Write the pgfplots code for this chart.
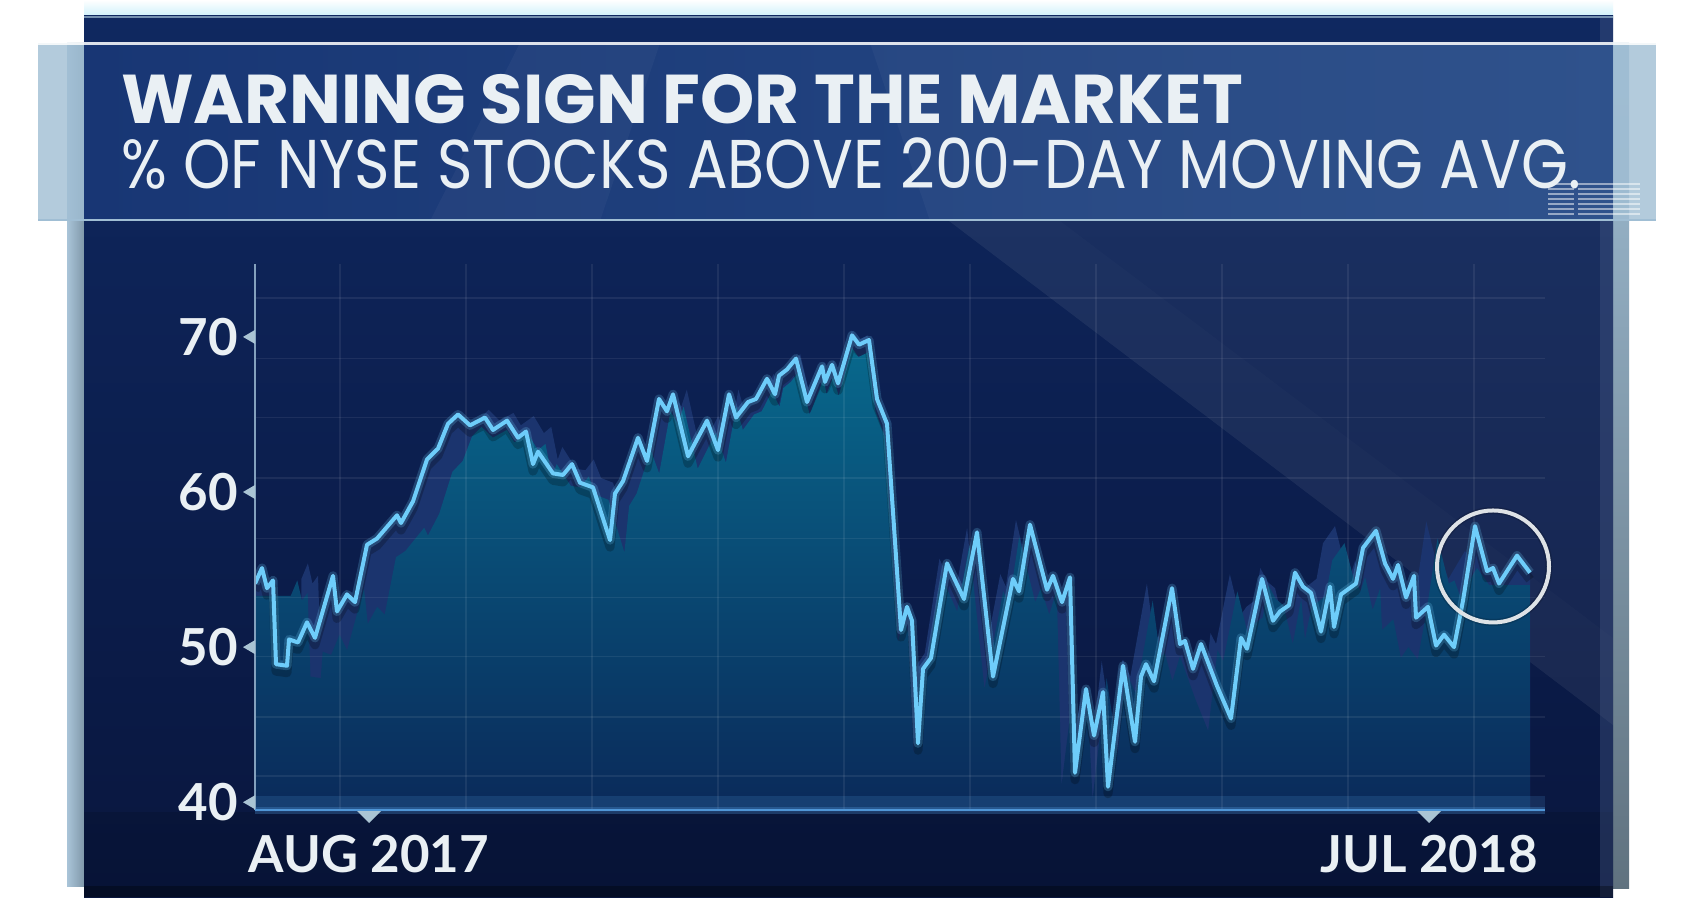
\documentclass[border=0pt]{standalone}
\usepackage{pgfplots}
\pgfplotsset{compat=1.18}
\usepackage{pgfplotstable}
\usepgfplotslibrary{fillbetween}
\usepackage{fontspec}
\newfontfamily\titlefont{Poppins}
\newfontfamily\tickfont{Lato}

\definecolor{bgtop}{RGB}{15,40,96}
\definecolor{bgmid}{RGB}{14,37,90}
\definecolor{bgbot}{RGB}{9,22,62}
\definecolor{navyband}{RGB}{27,52,110}
\definecolor{tealtop}{RGB}{8,104,140}
\definecolor{tealmid}{RGB}{9,72,112}
\definecolor{tealbot}{RGB}{10,42,90}
\definecolor{linecol}{RGB}{110,205,250}
\definecolor{labelcol}{RGB}{234,240,244}
\definecolor{tickcol}{RGB}{170,196,212}
\definecolor{circlecol}{RGB}{222,226,230}
\definecolor{bannerL}{RGB}{24,54,116}
\definecolor{bannerR}{RGB}{40,76,136}
\definecolor{glass}{RGB}{160,190,212}
\definecolor{glowcyan}{RGB}{196,238,250}
\definecolor{axisblue}{RGB}{80,150,215}

% % of NYSE stocks above 200-day moving average
% x: position along the time axis, v: percent
\pgfplotstableread{
x v
0 54.1
7 55.1
12 53.8
18 54.3
21 48.9
32 48.8
34 50.5
43 50.3
52 51.6
60 50.6
78 54.6
82 52.3
92 53.4
100 52.9
112 56.6
122 57.0
142 58.5
146 58.0
158 59.4
172 62.1
183 62.8
193 64.4
203 65.0
215 64.3
230 64.8
238 64.0
252 64.6
263 63.5
271 63.9
278 61.8
283 62.6
298 61.2
308 61.1
317 61.8
325 60.6
338 60.3
355 56.9
360 59.9
368 60.7
383 63.5
392 62.0
404 66.0
412 65.2
418 66.3
433 62.3
452 64.6
463 62.7
474 66.3
481 64.8
493 65.8
501 66.0
512 67.3
520 66.3
524 67.5
532 67.9
541 68.6
552 65.8
567 68.1
570 67.1
577 68.2
583 67.0
597 70.1
604 69.5
614 69.8
622 66.0
632 64.4
646 51.1
652 52.6
657 51.7
663 43.8
668 48.6
676 49.3
692 55.4
709 53.1
722 57.4
738 48.1
758 54.4
764 53.6
775 57.9
792 53.7
798 54.6
807 52.9
815 54.5
820 41.9
831 47.3
839 44.3
848 47.1
853 41.0
868 48.8
880 43.9
886 48.1
891 48.9
899 47.8
917 53.8
925 50.2
930 50.4
938 48.6
946 50.2
962 47.5
976 45.4
986 50.6
992 49.9
1007 54.4
1018 51.7
1025 52.3
1034 52.7
1040 54.8
1048 53.9
1056 53.5
1066 51.0
1075 53.9
1079 51.3
1086 53.4
1101 54.1
1108 56.4
1121 57.5
1130 55.4
1138 54.4
1143 55.3
1151 53.2
1159 54.6
1161 51.9
1173 52.6
1181 50.1
1189 50.8
1199 50.0
1208 53.0
1220 57.8
1232 54.9
1238 55.1
1244 54.1
1262 55.9
1275 54.8
}\nysedata

\begin{document}
\begin{tikzpicture}[x=1pt,y=1pt]
% canvas and frame
\fill[white] (0,0) rectangle (1691,906);
\shade[top color=white, bottom color=glowcyan] (84,886) rectangle (1613,906);
\shade[left color=glass!90!white, right color=glass!80!black] (67,20) rectangle (84,863);
\shade[top color=glass, bottom color=glass!60!black] (1613,18) rectangle (1629,863);
\shade[top color=bgtop, middle color=bgmid, bottom color=bgbot] (84,9) rectangle (1613,890);
\fill[white, opacity=0.05] (949,685) -- (1613,685) -- (1613,181) -- cycle;
\fill[white, opacity=0.015] (949,685) -- (1060,685) -- (1613,268) -- (1613,181) -- cycle;
\fill[black, opacity=0.12] (84,9) rectangle (1613,94);
\fill[navyband!80!white, opacity=0.35] (1600,9) rectangle (1613,890);
\fill[black, opacity=0.3] (84,9) rectangle (1613,20);
\draw[glass!70!bgtop, line width=2] (84,889) -- (1613,889);

% title banner
\shade[left color=bannerL, right color=bannerR] (84,685) rectangle (1613,863);
\fill[white, opacity=0.035] (430,685) -- (600,685) -- (660,863) -- (520,863) -- cycle;
\fill[white, opacity=0.035] (930,685) -- (1613,685) -- (1613,863) -- (870,863) -- cycle;
\fill[glass, opacity=0.8] (38,685) rectangle (84,863);
\fill[glass, opacity=0.8] (1613,685) rectangle (1656,863);
\draw[white, opacity=0.85, line width=3] (38,862) -- (1656,862);
\draw[glass, line width=2] (38,686) -- (1656,686);
\foreach \yy in {692,697,702,707,712,717,722}
  \draw[white, opacity=0.5, line width=2] (1548,\yy) -- (1574,\yy) (1578,\yy) -- (1640,\yy);

\node[anchor=base west, inner sep=0, text=labelcol,
  font=\titlefont\bfseries\fontsize{69}{69}\selectfont] at (121,782) {WARNING SIGN FOR THE MARKET};
\node[anchor=base west, inner sep=0, text=labelcol,
  font=\titlefont\fontsize{69}{69}\selectfont] at (121,717) {\scalebox{0.875}[1]{\% OF NYSE STOCKS ABOVE 200-DAY MOVING AVG.}};

\begin{axis}[
    name=main,
    at={(255pt,96pt)}, anchor=south west,
    scale only axis, width=1290pt, height=546pt,
    xmin=0, xmax=1290, ymin=39.5, ymax=74.7,
    axis line style={draw=none},
    major tick length=0pt,
    xtick={114,1174}, xticklabels={AUG 2017,JUL 2018},
    ytick={40,50,60,70}, yticklabels={40,50,60,70},
    ticklabel style={font=\tickfont\bfseries\fontsize{51}{51}\selectfont, text=labelcol, inner sep=0pt},
    yticklabel style={anchor=east, xshift=-17pt},
    xticklabel style={anchor=north, yshift=-25pt},
  ]
  % top face of the ribbon
  \addplot[draw=none, fill=navyband] table[x=x, y=v] {\nysedata}
    -- (axis cs:1275,39.5) -- (axis cs:0,39.5) -- cycle;
  \addplot[draw=none, fill=navyband] table[x expr=\thisrow{x}+0.078*(595-\thisrow{x}), y expr=\thisrow{v}+0.3] {\nysedata}
    -- (axis cs:1221.96,39.5) -- (axis cs:46.41,39.5) -- cycle;
  % front face
  \addplot[draw=none, top color=tealtop, middle color=tealmid, bottom color=tealbot]
    table[x expr=\thisrow{x}+0.06*(595-\thisrow{x}), y expr=\thisrow{v}-0.8] {\nysedata}
    -- (axis cs:1275,54.0) -- (axis cs:1275,39.5) -- (axis cs:0,39.5) -- (axis cs:0,53.3) -- cycle;
  \addplot[draw=none, name path=linemd] table[x=x, y expr=\thisrow{v}-0.8] {\nysedata};
  \addplot[draw=none, name path=tealedge] table[x expr=\thisrow{x}+0.06*(595-\thisrow{x}), y expr=\thisrow{v}-0.8] {\nysedata};
  \addplot[fill=navyband, draw=none] fill between[of=linemd and tealedge, on layer=main];
  % glow along the base
  \fill[axisblue, opacity=0.18] (axis cs:0,39.5) rectangle (axis cs:1290,40.4);
  % grid
  \pgfplotsinvokeforeach{85,211,337,463,589,715,841,967,1093,1219}{
    \draw[white, opacity=0.07, line width=1.5pt] (axis cs:#1,39.5) -- (axis cs:#1,74.7);
  }
  \pgfplotsinvokeforeach{41.7,45.5,49.4,53.2,57.0,60.9,64.8,68.6,72.5}{
    \draw[white, opacity=0.07, line width=1.5pt] (axis cs:0,#1) -- (axis cs:1290,#1);
  }
  % the series
  \addplot[black, opacity=0.22, line width=9pt, line join=round] table[x=x, y expr=\thisrow{v}-0.45] {\nysedata};
  \addplot[linecol, opacity=0.22, line width=9pt, line join=round] table[x=x, y=v] {\nysedata};
  \addplot[linecol, line width=4pt, line join=round] table[x=x, y=v] {\nysedata};
  \coordinate (cc) at (axis cs:1238,55.2);
  \coordinate (ty40) at (axis cs:0,40);
  \coordinate (ty50) at (axis cs:0,50);
  \coordinate (ty60) at (axis cs:0,60);
  \coordinate (ty70) at (axis cs:0,70);
  \coordinate (tx1) at (axis cs:114,39.5);
  \coordinate (tx2) at (axis cs:1174,39.5);
\end{axis}

% highlight circle
\draw[black, opacity=0.15, line width=7pt] (cc) circle[radius=56pt];
\draw[circlecol, line width=4pt] (cc) circle[radius=56pt];
% axis lines and tick markers
\draw[glass!80!bgtop, line width=1.5] (main.south west) -- (main.north west);
\draw[axisblue, opacity=0.3, line width=7] (main.south west) -- (main.south east);
\draw[axisblue, line width=2.5] (main.south west) -- (main.south east);
\foreach \t in {ty40,ty50,ty60,ty70}
  \fill[tickcol] (\t) ++(-12,0) -- ++(12,7) -- ++(0,-14) -- cycle;
\foreach \t in {tx1,tx2}
  \fill[tickcol] (\t) ++(-12,-1) -- ++(24,0) -- ++(-12,-12) -- cycle;
\end{tikzpicture}
\end{document}
